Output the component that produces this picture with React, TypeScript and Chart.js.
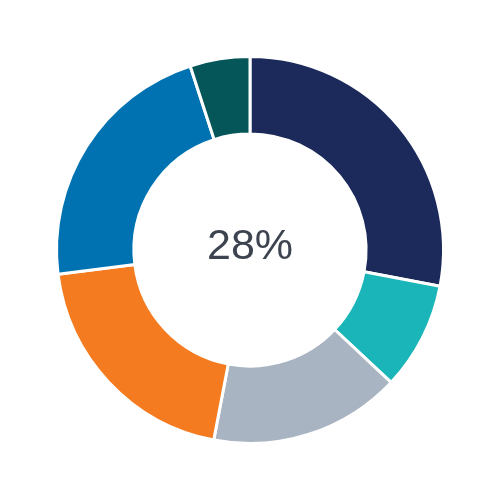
import { useEffect, useRef } from "react";
import Chart from "chart.js/auto";

const labels = ["A", "B", "C", "D", "E", "F"];
const values = [28, 9, 16, 20, 22, 5];
const colors = ["#1b2a5b", "#1ab5b8", "#a9b4c2", "#f47b20", "#0072b1", "#045659"];
const centerLabel = "28%";

export default function App() {
  const canvasRef = useRef<HTMLCanvasElement>(null);

  useEffect(() => {
    if (!canvasRef.current) return;
    document.body.style.margin = "0";

    const chart = new Chart(canvasRef.current, {
      type: "doughnut",
      data: {
        labels,
        datasets: [
          {
            data: values,
            backgroundColor: colors,
            borderColor: "#ffffff",
            borderWidth: 3,
          },
        ],
      },
      options: {
        responsive: false,
        animation: false,
        cutout: "60%",
        layout: { padding: 55 },
        plugins: {
          legend: { display: false },
          tooltip: { enabled: false },
        },
      },
      plugins: [
        {
          id: "centerText",
          afterDraw(c) {
            const ctx = c.ctx;
            const { left, right, top, bottom } = c.chartArea;
            ctx.save();
            ctx.fillStyle = "#3d4450";
            ctx.font = "43px 'Liberation Sans', Arial, sans-serif";
            ctx.textAlign = "center";
            ctx.textBaseline = "middle";
            ctx.fillText(centerLabel, (left + right) / 2, (top + bottom) / 2 - 3);
            ctx.restore();
          },
        },
      ],
    });

    return () => chart.destroy();
  }, []);

  return (
    <div style={{ width: 500, height: 500, background: "#fff" }}>
      <canvas ref={canvasRef} width={500} height={500} />
    </div>
  );
}
